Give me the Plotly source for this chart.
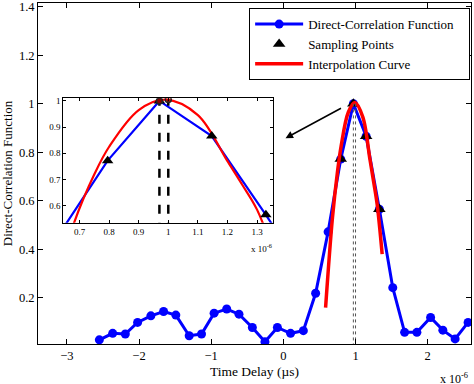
import plotly.graph_objects as go

# Time delay in microseconds (axis shows x 10^-6)
t_us = [-2.55, -2.365, -2.19, -2.02, -1.836, -1.66, -1.49, -1.305, -1.134, -0.96,
        -0.785, -0.615, -0.43, -0.255, -0.083, 0.1, 0.277, 0.447, 0.62, 0.795,
        0.97, 1.147, 1.33, 1.516, 1.68, 1.85, 2.04, 2.21, 2.38, 2.56]
corr = [0.027, 0.054, 0.051, 0.099, 0.126, 0.144, 0.129, 0.044, 0.051, 0.137,
        0.154, 0.133, 0.078, 0.019, 0.078, 0.054, 0.065, 0.219, 0.472, 0.772,
        1.0, 0.866, 0.565, 0.242, 0.058, 0.058, 0.119, 0.067, 0.031, 0.099]

sample_idx = [19, 20, 21, 22]
sample_t = [t_us[i] for i in sample_idx]
sample_v = [corr[i] for i in sample_idx]

interp_t = [0.585, 0.68, 0.75, 0.8, 0.9, 0.99, 1.1, 1.2, 1.25, 1.3, 1.369]
interp_v = [0.16, 0.53, 0.72, 0.825, 0.965, 1.005, 0.946, 0.77, 0.68, 0.585, 0.38]

peak_t = [0.97, 1.0]
peak_v = [1.0, 1.005]

main_x_ticks = [-3, -2, -1, 0, 1, 2]
main_y_ticks = [0.2, 0.4, 0.6, 0.8, 1.0, 1.2, 1.4]
inset_x_ticks = [0.7, 0.8, 0.9, 1.0, 1.1, 1.2, 1.3]
inset_y_ticks = [0.6, 0.7, 0.8, 0.9, 1.0]

BLUE = "#0000ff"
RED = "#ff0000"
FONT = "Liberation Serif"
PAD = "\u00a0\u00a0\u00a0"

fig = go.Figure()

# ---- main axes ----
fig.add_trace(go.Scatter(x=t_us, y=corr, mode="lines+markers",
                         name="Direct-Correlation Function" + PAD,
                         line=dict(color=BLUE, width=3),
                         marker=dict(color=BLUE, size=9, symbol="circle")))
fig.add_trace(go.Scatter(x=sample_t, y=sample_v, mode="markers",
                         name="Sampling Points",
                         marker=dict(color="black", size=11, symbol="triangle-up")))
fig.add_trace(go.Scatter(x=interp_t, y=interp_v, mode="lines",
                         name="Interpolation Curve", line_shape="spline",
                         line=dict(color=RED, width=3.5)))
for pt, pv in zip(peak_t, peak_v):
    fig.add_trace(go.Scatter(x=[pt, pt], y=[0, pv], mode="lines", showlegend=False,
                             line=dict(color="#555555", width=1, dash="dot")))

# ---- inset axes ----
fig.add_trace(go.Scatter(x=t_us, y=corr, mode="lines", showlegend=False,
                         xaxis="x2", yaxis="y2",
                         line=dict(color=BLUE, width=2.2)))
fig.add_trace(go.Scatter(x=interp_t, y=interp_v, mode="lines", showlegend=False,
                         xaxis="x2", yaxis="y2", line_shape="spline",
                         line=dict(color=RED, width=2.2)))
for pt, pv in zip(peak_t, peak_v):
    fig.add_trace(go.Scatter(x=[pt, pt], y=[0.5, pv], mode="lines", showlegend=False,
                             xaxis="x2", yaxis="y2",
                             line=dict(color="black", width=2.5, dash="dash")))
fig.add_trace(go.Scatter(x=sample_t, y=sample_v, mode="markers", showlegend=False,
                         xaxis="x2", yaxis="y2",
                         marker=dict(color="black", size=10, symbol="triangle-up")))
fig.add_trace(go.Scatter(x=peak_t, y=peak_v, mode="markers", showlegend=False,
                         xaxis="x2", yaxis="y2",
                         marker=dict(color="rgba(220,0,0,0.6)", size=6, symbol="circle",
                                     line=dict(color="#222222", width=1.5))))

fig.add_annotation(x=0.03, y=0.858, ax=0.84, ay=0.988, xref="x", yref="y",
                   axref="x", ayref="y", showarrow=True, arrowhead=2,
                   arrowsize=1, arrowwidth=1.5, arrowcolor="black", text=" ")
fig.add_annotation(x=0.998, y=-0.072, xref="paper", yref="paper",
                   xanchor="right", yanchor="top", showarrow=False,
                   text="x 10<sup>-6</sup>", font=dict(family=FONT, size=12, color="black"))
fig.add_annotation(x=0.545, y=0.305, xref="paper", yref="paper",
                   xanchor="right", yanchor="top", showarrow=False,
                   text="x 10<sup>-6</sup>", font=dict(family=FONT, size=9, color="black"))

axis_common = dict(showline=True, linecolor="black", linewidth=1, mirror="ticks",
                   ticks="inside", tickcolor="black", showgrid=False, zeroline=False,
                   automargin=False, ticklabeloverflow="allow")

fig.update_layout(
    width=474, height=384,
    margin=dict(l=38, r=3, t=3, b=40),
    paper_bgcolor="white", plot_bgcolor="white",
    font=dict(family=FONT, size=12.5, color="black"),
    showlegend=True,
    legend=dict(x=0.998, y=0.985, xanchor="right", yanchor="top",
                bgcolor="white", bordercolor="black", borderwidth=1,
                font=dict(family=FONT, size=13), itemwidth=48,
                tracegroupgap=0),
    xaxis=dict(range=[-3.4, 2.6], tickvals=main_x_ticks, ticklen=5,
               title=dict(text="Time Delay (µs)", standoff=4,
                          font=dict(family=FONT, size=13.5)),
               **axis_common),
    yaxis=dict(range=[0.01, 1.415], tickvals=main_y_ticks, ticklen=5,
               title=dict(text="Direct-Correlation Function", standoff=7,
                          font=dict(family=FONT, size=13)),
               **axis_common),
    xaxis2=dict(domain=[0.0584, 0.5434], anchor="y2", range=[0.645, 1.355],
                tickvals=inset_x_ticks, ticklen=3, tickfont=dict(size=9), **axis_common),
    yaxis2=dict(domain=[0.3557, 0.7205], anchor="x2", range=[0.535, 1.01],
                tickvals=inset_y_ticks, ticklen=3, tickfont=dict(size=9), **axis_common),
)

fig.write_html("out.html", config={"displayModeBar": False},
               post_script="document.body.style.margin='0';")
